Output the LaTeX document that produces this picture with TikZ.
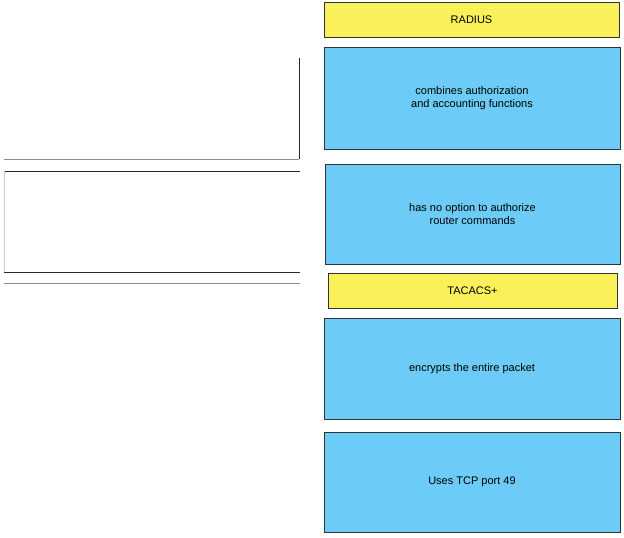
\documentclass[tikz,border=0pt]{standalone}
\usepackage{fontspec}
\setmainfont{Liberation Sans}
\begin{document}
\begin{tikzpicture}[x=1pt,y=-1pt,
  ybox/.style={draw=black!80,line width=1pt,fill=yellow!80!white,font=\fontsize{11}{13}\selectfont},
  bbox/.style={draw=black!80,line width=1pt,fill=cyan!50!blue!40!white,fill={rgb,255:red,108;green,204;blue,247},align=center,font=\fontsize{11}{13}\selectfont},
  dk/.style={draw=black!85,line width=0.8pt},
  gr/.style={draw=black!45,line width=0.8pt}]
\useasboundingbox (0,0) rectangle (624,538);
\node[ybox,fill={rgb,255:red,250;green,240;blue,90},minimum width=295pt,minimum height=35pt] (r) at (471.5,19.5) {RADIUS};
\node[bbox,minimum width=296pt,minimum height=102pt] (b1) at (472,98) {combines authorization\\ and accounting functions};
\node[bbox,minimum width=295pt,minimum height=100pt] (b2) at (472.5,214) {has no option to authorize\\ router commands};
\node[ybox,fill={rgb,255:red,250;green,240;blue,90},minimum width=289pt,minimum height=35pt] (t) at (472.5,290.5) {TACACS+};
\node[bbox,minimum width=296pt,minimum height=101pt] (b3) at (472,368.5) {encrypts the entire packet};
\node[bbox,minimum width=296pt,minimum height=100pt] (b4) at (472,482) {Uses TCP port 49};
\coordinate (a1) at (299,58); \coordinate (a2) at (299,159); \coordinate (a3) at (4,159);
\draw[dk] (a1) -- (a2);
\draw[gr] (a2) -- (a3);
\coordinate (c1) at (4,171); \coordinate (c2) at (300,171);
\coordinate (c3) at (4,272); \coordinate (c4) at (300,272);
\draw[dk] (c1) -- (c2);
\draw[draw=black!20,line width=0.6pt] (c1) -- (c3);
\draw[dk] (c3) -- (c4);
\coordinate (d1) at (4,283); \coordinate (d2) at (300,283);
\draw[gr] (d1) -- (d2);
\end{tikzpicture}
\end{document}
